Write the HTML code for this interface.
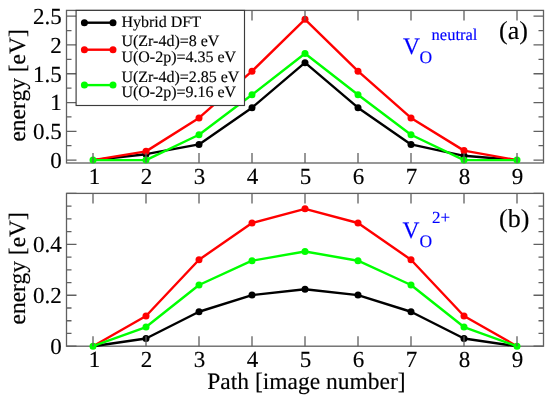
<!DOCTYPE html><html><head><meta charset="utf-8"><style>
html,body{margin:0;padding:0;background:#fff;width:550px;height:399px;overflow:hidden}
svg{display:block}
text{font-family:"Liberation Serif","Times New Roman",serif;fill:#000;text-rendering:geometricPrecision;stroke:#000;stroke-width:0.15px}
.tk{font-size:23.0px}
.lb{font-size:23.5px}
.lg{font-size:16px}
.bl{fill:#0000ff;stroke:#0000ff}
</style></head><body>
<svg width="550" height="399" viewBox="0 0 550 399">
<rect width="550" height="399" fill="#fff"/>
<rect x="66.50" y="10.40" width="477.00" height="152.60" fill="none" stroke="#606060" stroke-width="1.30"/>
<polyline points="93.00,160.12 146.00,154.19 199.00,144.40 252.00,107.66 305.00,62.69 358.00,107.66 411.00,144.40 464.00,155.80 517.00,160.12" fill="none" stroke="#000000" stroke-width="2.40" stroke-linejoin="round"/>
<circle cx="146.00" cy="154.19" r="3.50" fill="#000000"/>
<circle cx="199.00" cy="144.40" r="3.50" fill="#000000"/>
<circle cx="252.00" cy="107.66" r="3.50" fill="#000000"/>
<circle cx="305.00" cy="62.69" r="3.50" fill="#000000"/>
<circle cx="358.00" cy="107.66" r="3.50" fill="#000000"/>
<circle cx="411.00" cy="144.40" r="3.50" fill="#000000"/>
<circle cx="464.00" cy="155.80" r="3.50" fill="#000000"/>
<polyline points="93.00,160.12 146.00,151.37 199.00,117.91 252.00,71.21 305.00,19.33 358.00,71.21 411.00,117.91 464.00,150.62 517.00,160.12" fill="none" stroke="#ff0000" stroke-width="2.40" stroke-linejoin="round"/>
<circle cx="146.00" cy="151.37" r="3.50" fill="#ff0000"/>
<circle cx="199.00" cy="117.91" r="3.50" fill="#ff0000"/>
<circle cx="252.00" cy="71.21" r="3.50" fill="#ff0000"/>
<circle cx="305.00" cy="19.33" r="3.50" fill="#ff0000"/>
<circle cx="358.00" cy="71.21" r="3.50" fill="#ff0000"/>
<circle cx="411.00" cy="117.91" r="3.50" fill="#ff0000"/>
<circle cx="464.00" cy="150.62" r="3.50" fill="#ff0000"/>
<polyline points="93.00,160.12 146.00,160.12 199.00,134.78 252.00,94.82 305.00,53.47 358.00,94.82 411.00,134.78 464.00,160.12 517.00,160.12" fill="none" stroke="#00ff00" stroke-width="2.40" stroke-linejoin="round"/>
<circle cx="93.00" cy="160.12" r="3.50" fill="#00ff00"/>
<circle cx="146.00" cy="160.12" r="3.50" fill="#00ff00"/>
<circle cx="199.00" cy="134.78" r="3.50" fill="#00ff00"/>
<circle cx="252.00" cy="94.82" r="3.50" fill="#00ff00"/>
<circle cx="305.00" cy="53.47" r="3.50" fill="#00ff00"/>
<circle cx="358.00" cy="94.82" r="3.50" fill="#00ff00"/>
<circle cx="411.00" cy="134.78" r="3.50" fill="#00ff00"/>
<circle cx="464.00" cy="160.12" r="3.50" fill="#00ff00"/>
<circle cx="517.00" cy="160.12" r="3.50" fill="#00ff00"/>
<path d="M93.00 163.00V153.00M93.00 10.40V20.40M146.00 163.00V153.00M146.00 10.40V20.40M199.00 163.00V153.00M199.00 10.40V20.40M252.00 163.00V153.00M252.00 10.40V20.40M305.00 163.00V153.00M305.00 10.40V20.40M358.00 163.00V153.00M358.00 10.40V20.40M411.00 163.00V153.00M411.00 10.40V20.40M464.00 163.00V153.00M464.00 10.40V20.40M517.00 163.00V153.00M517.00 10.40V20.40M66.50 160.12H76.50M543.50 160.12H533.50M66.50 131.33H76.50M543.50 131.33H533.50M66.50 102.54H76.50M543.50 102.54H533.50M66.50 73.74H76.50M543.50 73.74H533.50M66.50 44.95H76.50M543.50 44.95H533.50M66.50 16.16H76.50M543.50 16.16H533.50M66.50 145.72H71.50M543.50 145.72H538.50M66.50 116.93H71.50M543.50 116.93H538.50M66.50 88.14H71.50M543.50 88.14H538.50M66.50 59.35H71.50M543.50 59.35H538.50M66.50 30.55H71.50M543.50 30.55H538.50" stroke="#606060" stroke-width="1.30" fill="none"/>
<rect x="76.1" y="10.4" width="168.4" height="95.1" fill="#fff" stroke="#3c3c3c" stroke-width="1.15"/>
<line x1="84.4" y1="22.7" x2="113" y2="22.7" stroke="#000000" stroke-width="2.40"/>
<circle cx="84.4" cy="22.7" r="3.50" fill="#000000"/><circle cx="113" cy="22.7" r="3.50" fill="#000000"/>
<line x1="84.4" y1="49.7" x2="113" y2="49.7" stroke="#ff0000" stroke-width="2.40"/>
<circle cx="84.4" cy="49.7" r="3.50" fill="#ff0000"/><circle cx="113" cy="49.7" r="3.50" fill="#ff0000"/>
<line x1="84.4" y1="85.1" x2="113" y2="85.1" stroke="#00ff00" stroke-width="2.40"/>
<circle cx="84.4" cy="85.1" r="3.50" fill="#00ff00"/><circle cx="113" cy="85.1" r="3.50" fill="#00ff00"/>
<text x="121.4" y="26.8" class="lg">Hybrid DFT</text>
<text x="121.4" y="46.2" class="lg">U(Zr-4d)=8 eV</text>
<text x="121.4" y="61.5" class="lg">U(O-2p)=4.35 eV</text>
<text x="121.4" y="81.8" class="lg">U(Zr-4d)=2.85 eV</text>
<text x="121.4" y="97" class="lg">U(O-2p)=9.16 eV</text>
<text x="61.8" y="167.92" text-anchor="end" class="tk">0</text>
<text x="61.8" y="139.13" text-anchor="end" class="tk">0.5</text>
<text x="61.8" y="110.34" text-anchor="end" class="tk">1</text>
<text x="61.8" y="81.54" text-anchor="end" class="tk">1.5</text>
<text x="61.8" y="52.75" text-anchor="end" class="tk">2</text>
<text x="61.8" y="23.96" text-anchor="end" class="tk">2.5</text>
<text x="94.40" y="184.00" text-anchor="middle" class="tk">1</text>
<text x="146.50" y="184.00" text-anchor="middle" class="tk">2</text>
<text x="199.50" y="184.00" text-anchor="middle" class="tk">3</text>
<text x="252.50" y="184.00" text-anchor="middle" class="tk">4</text>
<text x="305.50" y="184.00" text-anchor="middle" class="tk">5</text>
<text x="358.50" y="184.00" text-anchor="middle" class="tk">6</text>
<text x="411.50" y="184.00" text-anchor="middle" class="tk">7</text>
<text x="464.50" y="184.00" text-anchor="middle" class="tk">8</text>
<text x="517.50" y="184.00" text-anchor="middle" class="tk">9</text>
<text x="403" y="53.7" class="bl" style="font-size:23.5px">V</text>
<text x="419.5" y="62.9" class="bl" style="font-size:17.5px">O</text>
<text x="431.6" y="39.6" class="bl" style="font-size:16.5px">neutral</text>
<text x="499" y="39.2" style="font-size:26px">(a)</text>
<text transform="translate(24.8 85.4) rotate(-90)" text-anchor="middle" class="lb">energy [eV]</text>
<rect x="66.50" y="193.40" width="477.00" height="152.80" fill="none" stroke="#606060" stroke-width="1.30"/>
<polyline points="93.00,346.20 146.00,338.46 199.00,311.74 252.00,295.09 305.00,289.21 358.00,295.09 411.00,311.74 464.00,338.46 517.00,346.20" fill="none" stroke="#000000" stroke-width="2.40" stroke-linejoin="round"/>
<circle cx="146.00" cy="338.46" r="3.50" fill="#000000"/>
<circle cx="199.00" cy="311.74" r="3.50" fill="#000000"/>
<circle cx="252.00" cy="295.09" r="3.50" fill="#000000"/>
<circle cx="305.00" cy="289.21" r="3.50" fill="#000000"/>
<circle cx="358.00" cy="295.09" r="3.50" fill="#000000"/>
<circle cx="411.00" cy="311.74" r="3.50" fill="#000000"/>
<circle cx="464.00" cy="338.46" r="3.50" fill="#000000"/>
<polyline points="93.00,346.20 146.00,315.95 199.00,259.74 252.00,222.99 305.00,208.81 358.00,222.99 411.00,259.74 464.00,315.95 517.00,346.20" fill="none" stroke="#ff0000" stroke-width="2.40" stroke-linejoin="round"/>
<circle cx="146.00" cy="315.95" r="3.50" fill="#ff0000"/>
<circle cx="199.00" cy="259.74" r="3.50" fill="#ff0000"/>
<circle cx="252.00" cy="222.99" r="3.50" fill="#ff0000"/>
<circle cx="305.00" cy="208.81" r="3.50" fill="#ff0000"/>
<circle cx="358.00" cy="222.99" r="3.50" fill="#ff0000"/>
<circle cx="411.00" cy="259.74" r="3.50" fill="#ff0000"/>
<circle cx="464.00" cy="315.95" r="3.50" fill="#ff0000"/>
<polyline points="93.00,346.20 146.00,327.05 199.00,285.00 252.00,260.71 305.00,251.49 358.00,260.71 411.00,285.00 464.00,327.05 517.00,346.20" fill="none" stroke="#00ff00" stroke-width="2.40" stroke-linejoin="round"/>
<circle cx="93.00" cy="346.20" r="3.50" fill="#00ff00"/>
<circle cx="146.00" cy="327.05" r="3.50" fill="#00ff00"/>
<circle cx="199.00" cy="285.00" r="3.50" fill="#00ff00"/>
<circle cx="252.00" cy="260.71" r="3.50" fill="#00ff00"/>
<circle cx="305.00" cy="251.49" r="3.50" fill="#00ff00"/>
<circle cx="358.00" cy="260.71" r="3.50" fill="#00ff00"/>
<circle cx="411.00" cy="285.00" r="3.50" fill="#00ff00"/>
<circle cx="464.00" cy="327.05" r="3.50" fill="#00ff00"/>
<circle cx="517.00" cy="346.20" r="3.50" fill="#00ff00"/>
<path d="M93.00 346.20V336.20M93.00 193.40V203.40M146.00 346.20V336.20M146.00 193.40V203.40M199.00 346.20V336.20M199.00 193.40V203.40M252.00 346.20V336.20M252.00 193.40V203.40M305.00 346.20V336.20M305.00 193.40V203.40M358.00 346.20V336.20M358.00 193.40V203.40M411.00 346.20V336.20M411.00 193.40V203.40M464.00 346.20V336.20M464.00 193.40V203.40M517.00 346.20V336.20M517.00 193.40V203.40M66.50 346.20H76.50M543.50 346.20H533.50M66.50 295.27H76.50M543.50 295.27H533.50M66.50 244.33H76.50M543.50 244.33H533.50M66.50 193.40H76.50M543.50 193.40H533.50M66.50 333.47H71.50M543.50 333.47H538.50M66.50 320.73H71.50M543.50 320.73H538.50M66.50 308.00H71.50M543.50 308.00H538.50M66.50 282.53H71.50M543.50 282.53H538.50M66.50 269.80H71.50M543.50 269.80H538.50M66.50 257.07H71.50M543.50 257.07H538.50M66.50 231.60H71.50M543.50 231.60H538.50M66.50 218.87H71.50M543.50 218.87H538.50M66.50 206.13H71.50M543.50 206.13H538.50" stroke="#606060" stroke-width="1.30" fill="none"/>
<text x="61.8" y="354.00" text-anchor="end" class="tk">0</text>
<text x="61.8" y="303.07" text-anchor="end" class="tk">0.2</text>
<text x="61.8" y="252.13" text-anchor="end" class="tk">0.4</text>
<text x="94.40" y="367.30" text-anchor="middle" class="tk">1</text>
<text x="146.50" y="367.30" text-anchor="middle" class="tk">2</text>
<text x="199.50" y="367.30" text-anchor="middle" class="tk">3</text>
<text x="252.50" y="367.30" text-anchor="middle" class="tk">4</text>
<text x="305.50" y="367.30" text-anchor="middle" class="tk">5</text>
<text x="358.50" y="367.30" text-anchor="middle" class="tk">6</text>
<text x="411.50" y="367.30" text-anchor="middle" class="tk">7</text>
<text x="464.50" y="367.30" text-anchor="middle" class="tk">8</text>
<text x="517.50" y="367.30" text-anchor="middle" class="tk">9</text>
<text x="402.5" y="237.7" class="bl" style="font-size:23.5px">V</text>
<text x="419.5" y="247.2" class="bl" style="font-size:17.5px">O</text>
<text x="432" y="223.3" class="bl" style="font-size:17px">2+</text>
<text x="499" y="227" style="font-size:26px">(b)</text>
<text transform="translate(24.8 268.3) rotate(-90)" text-anchor="middle" class="lb">energy [eV]</text>
<text x="306.5" y="388.7" text-anchor="middle" class="lb">Path [image number]</text>
</svg></body></html>
